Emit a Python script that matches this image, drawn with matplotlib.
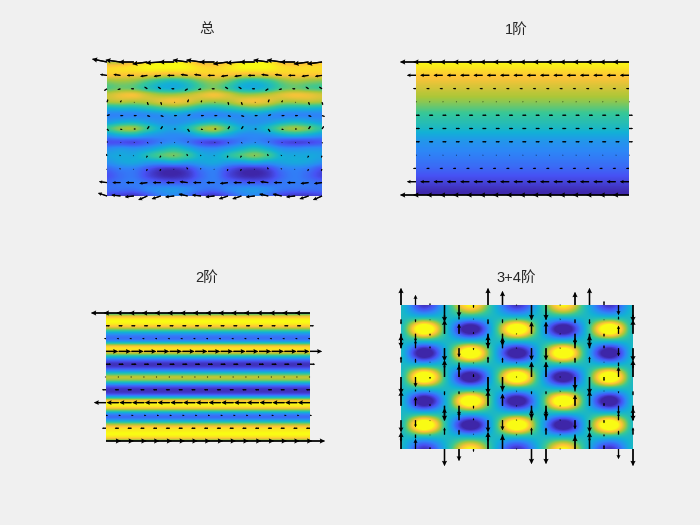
import numpy as np
import matplotlib
matplotlib.use("Agg")
import matplotlib.pyplot as plt
from matplotlib.colors import LinearSegmentedColormap

plt.rcParams['font.family'] = ['Liberation Sans', 'Noto Sans CJK SC', 'DejaVu Sans']

W, H = 700, 525
titles = ['总', '1阶', '2阶', '3+4阶']
title_pos = [(207, 29.5), (516, 29.5), (207, 277.5), (516, 277.5)]
# left, right, top, bottom of each field in pixels
boxes = [(107, 322, 62, 196), (416, 629, 62, 195), (106, 310, 313, 441), (401, 633, 305, 449)]

parula = ['#3e26a8', '#4752f4', '#2d87f7', '#12b1d6', '#37c897', '#abc739', '#fec338', '#f9fb14']

field_total = [
    [.72, .72, .82, .92, .99, 1.0, .92, .80, .78, .86, .95, 1.0, .96, .84, .78, .82, .85],
    [.90, .92, .95, .99, 1.0, 1.0, .98, .92, .90, .94, .99, 1.0, .99, .93, .91, .92, .92],
    [.88, .87, .86, .85, .83, .82, .84, .87, .88, .86, .83, .82, .84, .87, .88, .87, .87],
    [.68, .70, .68, .60, .52, .48, .54, .65, .70, .64, .52, .48, .54, .65, .70, .68, .66],
    [.60, .64, .62, .52, .44, .42, .48, .60, .66, .56, .44, .42, .48, .60, .64, .60, .58],
    [.76, .82, .84, .76, .70, .70, .74, .80, .84, .78, .70, .70, .74, .80, .84, .82, .78],
    [.72, .74, .72, .74, .80, .84, .80, .72, .70, .72, .80, .84, .80, .72, .72, .74, .72],
    [.44, .46, .46, .50, .56, .60, .56, .48, .46, .50, .56, .60, .56, .48, .46, .46, .44],
    [.28, .28, .28, .30, .32, .36, .32, .28, .28, .30, .32, .36, .32, .28, .28, .28, .28],
    [.36, .42, .44, .38, .33, .32, .35, .42, .46, .40, .33, .32, .35, .42, .46, .42, .36],
    [.56, .68, .70, .56, .42, .38, .48, .66, .72, .58, .42, .38, .48, .64, .70, .64, .52],
    [.34, .42, .44, .36, .32, .30, .32, .42, .46, .38, .30, .30, .32, .40, .44, .40, .34],
    [.14, .14, .12, .18, .26, .30, .24, .14, .10, .18, .26, .30, .24, .14, .10, .12, .16],
    [.30, .34, .32, .36, .44, .50, .42, .32, .30, .36, .44, .50, .42, .32, .30, .32, .32],
    [.38, .40, .40, .50, .60, .64, .56, .42, .40, .50, .60, .66, .58, .42, .40, .40, .38],
    [.32, .38, .40, .36, .36, .40, .36, .38, .40, .36, .36, .40, .36, .38, .40, .38, .32],
    [.20, .26, .26, .16, .06, .04, .10, .24, .28, .16, .06, .04, .10, .24, .28, .24, .14],
    [.14, .22, .24, .12, .03, .01, .06, .20, .26, .12, .03, .01, .06, .20, .26, .20, .10],
    [.20, .24, .26, .22, .18, .16, .18, .24, .26, .22, .18, .16, .18, .24, .26, .24, .20],
    [.22, .22, .22, .28, .32, .34, .30, .24, .22, .28, .32, .34, .30, .24, .22, .22, .22],
    [.10, .08, .05, .14, .26, .30, .22, .10, .06, .14, .26, .30, .22, .10, .06, .06, .10],
]
field_first = [1.0, .88, .78, .68, .56, .47, .34, .27, .20, .10, .0]
field_second = [.55, .82, .98, .98, .85, .62, .38, .24, .26, .55, .88, .92, .72, .45, .20, .05,
                .08, .28, .54, .74, .64, .36, .12, .04, .12, .45, .85, .98, .90, .60, .30, .22,
                .42, .70, .90, .97, 1.0, .90, .62]
# colour limits clip these: the core of each blob is saturated in the reference
field_third = [
    [.48, .04, .47, 1.0, .47, .04, .47, 1.0, .47, .04, .47],
    [.47, .46, .47, .48, .47, .46, .47, .48, .47, .46, .47],
    [.47, 1.18, .47, -.12, .47, 1.18, .47, -.12, .47, 1.18, .47],
    [.47, .48, .47, .46, .47, .48, .47, .46, .47, .48, .47],
    [.47, -.12, .47, 1.18, .47, -.12, .47, 1.18, .47, -.12, .47],
    [.47, .46, .47, .48, .47, .46, .47, .48, .47, .46, .47],
    [.47, 1.18, .47, -.12, .47, 1.18, .47, -.12, .47, 1.18, .47],
    [.47, .48, .47, .46, .47, .48, .47, .46, .47, .48, .47],
    [.47, -.12, .47, 1.18, .47, -.12, .47, 1.18, .47, -.12, .47],
    [.47, .46, .47, .48, .47, .46, .47, .48, .47, .46, .47],
    [.47, 1.18, .47, -.12, .47, 1.18, .47, -.12, .47, 1.18, .47],
    [.47, .48, .47, .46, .47, .48, .47, .46, .47, .48, .47],
    [.48, .04, .47, 1.0, .47, .04, .47, 1.0, .47, .04, .47],
]

# arrow components, in pixels, one row of the grid per entry (v is up on screen)
u_total = [-15, -7, -3, 1, 3, 2, 1, -1, -1, -8, -9]
v_total = [
    [3, 2, 0, -2, -1, 0, 2, 2, 0, -2, -1, 0, 2, 2, 0, -2, -2],
    [1, 1, 0, -1, -1, 0, 1, 1, 0, -1, -1, 0, 1, 1, 0, -1, -1],
    [-2, -1, 0, 2, 2, 0, -2, -1, 0, 2, 2, 0, -2, -1, 0, 2, 2],
    [3, 2, 0, -3, -3, 0, 3, 2, 0, -3, -3, 0, 3, 2, 0, -3, -3],
    [1, 0, 0, -1, -1, 0, 1, 0, 0, -1, -1, 0, 1, 0, 0, -1, -1],
    [-2, -1, 0, 3, 3, 0, -3, -1, 0, 3, 3, 0, -3, -1, 0, 3, 3],
    [1, 0, 0, -1, -1, 0, 1, 0, 0, -1, -1, 0, 1, 0, 0, -1, -1],
    [2, 1, 0, -2, -2, 0, 2, 1, 0, -2, -2, 0, 2, 1, 0, -2, -2],
    [0, 1, 0, -2, -2, 0, 2, 1, 0, -2, -2, 0, 2, 1, 0, -2, -2],
    [1, 0, 0, -1, 0, 0, 1, 0, 0, -1, 0, 0, 1, 0, 0, -1, -1],
    [3, 1, -1, -4, -3, -1, 2, 1, -1, -3, -3, -1, 2, 2, -1, -3, -4],
]
u_first = [-16, -9, -3, 1, 4, 4, 4, 1, -3, -9, -16]
u_second = [-15, 4, -2, 12, 5, 0, -4, -12, 2, -4, 15]
v_third = [
    [17, 10, 2, -17, -12, -3, 17, 14, 0, -15, -15, 0, 13, 17, 4, -10, -17],
    [-5, -3, -1, 5, 3, 1, -5, -4, 0, 4, 4, 0, -4, -5, -1, 3, 5],
    [-14, -8, -2, 14, 10, 2, -14, -12, 0, 12, 12, 0, -11, -14, -3, 8, 14],
    [13, 8, 2, -13, -9, -2, 13, 11, 0, -12, -12, 0, 10, 13, 3, -8, -13],
    [6, 4, 1, -6, -4, -1, 6, 5, 0, -5, -5, 0, 5, 6, 1, -4, -6],
    [-17, -10, -2, 17, 12, 3, -17, -14, 0, 15, 15, 0, -13, -17, -4, 10, 17],
    [4, 2, 0, -4, -3, -1, 4, 3, 0, -3, -3, 0, 3, 4, 1, -2, -4],
    [15, 9, 2, -15, -10, -3, 15, 12, 0, -13, -13, 0, 11, 15, 3, -9, -15],
    [-12, -7, -1, 12, 9, 2, -12, -10, 0, 11, 11, 0, -9, -12, -3, 7, 12],
    [-7, -4, -1, 7, 5, 1, -7, -6, 0, 7, 7, 0, -6, -7, -2, 4, 7],
    [17, 10, 2, -17, -12, -3, 17, 14, 0, -15, -15, 0, 13, 17, 4, -10, -17],
]


def drawPanel(fig, box, field, u, v):
    left, right, top, bottom = box
    ax = fig.add_axes([left / W, 1 - bottom / H, (right - left) / W, (bottom - top) / H])
    field = np.array(field, dtype=float)
    if field.ndim == 1:
        field = field.reshape(-1, 1)
    nrow, ncol = field.shape
    dx = 16 / max(ncol - 1, 1)
    dy = 10 / (nrow - 1)
    ax.imshow(field, cmap=cmap, vmin=0, vmax=1, aspect='auto', interpolation='catrom',
              extent=(-dx / 2, 16 + dx / 2, 10 + dy / 2, -dy / 2))
    ax.set_xlim(0, 16)
    ax.set_ylim(10, 0)
    ax.axis('off')
    X, Y = np.meshgrid(np.arange(17), np.arange(11))
    # shafts first, then heads that shrink with the arrow like matlab's
    ax.quiver(X, Y, u, v, angles='uv', scale_units='dots', scale=1, units='dots', width=1.3,
              headwidth=1, headlength=1, headaxislength=1, minshaft=0, minlength=0,
              color='black', clip_on=False, zorder=3)
    ax.quiver(X, Y, u, v, angles='uv', scale_units='dots', scale=1, units='dots', width=1.3,
              headwidth=4, headlength=4, headaxislength=3.6, minshaft=2.5, minlength=0.3,
              color='black', clip_on=False, zorder=3)


cmap = LinearSegmentedColormap.from_list('parula', parula)
fig = plt.figure(figsize=(7, 5.25), dpi=100, facecolor='#f0f0f0')

zero = np.zeros((11, 17))
row_u = lambda vals: np.tile(np.array(vals, dtype=float).reshape(-1, 1), (1, 17))

drawPanel(fig, boxes[0], field_total, row_u(u_total), np.array(v_total))
drawPanel(fig, boxes[1], field_first, row_u(u_first), zero)
drawPanel(fig, boxes[2], field_second, row_u(u_second), zero)
drawPanel(fig, boxes[3], field_third, zero, np.array(v_third))

for t, (x, y) in zip(titles, title_pos):
    fig.text(x / W, 1 - y / H, t, ha='center', va='center', fontsize=10.5, color='#262626')

fig.savefig('out.png', dpi=100, facecolor=fig.get_facecolor())
